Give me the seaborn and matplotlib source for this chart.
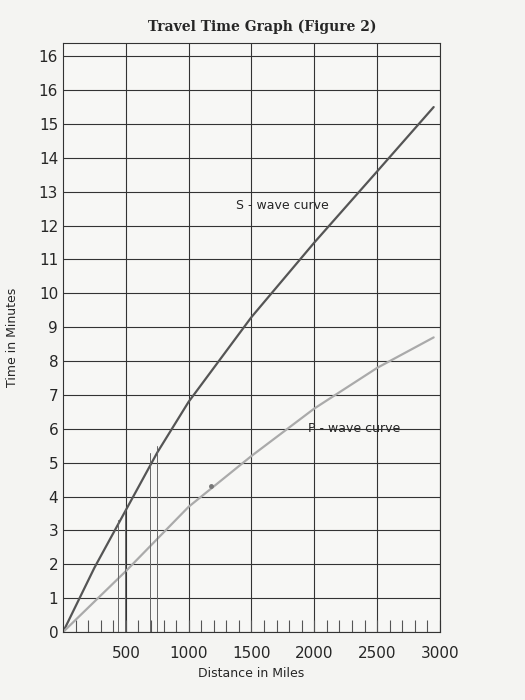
import numpy as np
import matplotlib.pyplot as plt
import seaborn as sns

# y values are in grid rows (row 17 carries the repeated "16" label)
distance_s = [0, 250, 500, 750, 1000, 1500, 2000, 2500, 2950]
time_s = [0, 1.9, 3.6, 5.3, 6.8, 9.3, 11.5, 13.6, 15.5]
distance_p = [0, 500, 1000, 1500, 2000, 2500, 2950]
time_p = [0, 1.8, 3.7, 5.2, 6.6, 7.8, 8.7]
marker_p = (1180, 4.3)
y_tick_labels = ["0", "1", "2", "3", "4", "5", "6", "7", "8", "9",
                 "10", "11", "12", "13", "14", "15", "16", "16"]
x_ticks = [500, 1000, 1500, 2000, 2500, 3000]
drop_lines = [(440, 3.3), (490, 3.6), (690, 5.3), (750, 5.5)]

sns.set_style("white")
fig = plt.figure(figsize=(5.25, 7), dpi=100)
fig.patch.set_facecolor("#f4f4f2")
ax = fig.add_axes([0.12, 0.097, 0.718, 0.842])
ax.set_facecolor("#f7f7f5")

sns.lineplot(x=distance_s, y=time_s, ax=ax, color="#555555", lw=1.6)
sns.lineplot(x=distance_p, y=time_p, ax=ax, color="#aaaaaa", lw=1.6)
ax.plot(*marker_p, "o", color="#777777", ms=2.5)
for x, y in drop_lines:
    ax.plot([x, x], [0, y], color="#666666", lw=0.7)

ax.set_xlim(0, 3000)
ax.set_ylim(0, 17.4)
ax.set_yticks(range(len(y_tick_labels)))
ax.set_yticklabels(y_tick_labels, fontsize=11)
ax.set_xticks(x_ticks)
ax.set_xticks(range(100, 3000, 100), minor=True)
ax.tick_params(axis="x", which="both", bottom=True, direction="in", length=9,
               color="#555555", width=0.8)
ax.tick_params(axis="x", which="major", labelsize=11, pad=10)
ax.tick_params(axis="y", length=0)
ax.grid(True, color="#333333", lw=0.8)
for s in ax.spines.values():
    s.set_color("#333333")

ax.text(1380, 12.5, "S - wave curve", fontsize=9)
ax.text(1950, 5.9, "P - wave curve", fontsize=9)
ax.set_xlabel("Distance in Miles", fontsize=9)
ax.set_ylabel("Time in Minutes", fontsize=9, labelpad=14)
fig.text(0.5, 0.955, "Travel Time Graph (Figure 2)", ha="center",
         fontsize=10, fontweight="bold", family="DejaVu Serif")

fig.savefig("out.png", dpi=100)
